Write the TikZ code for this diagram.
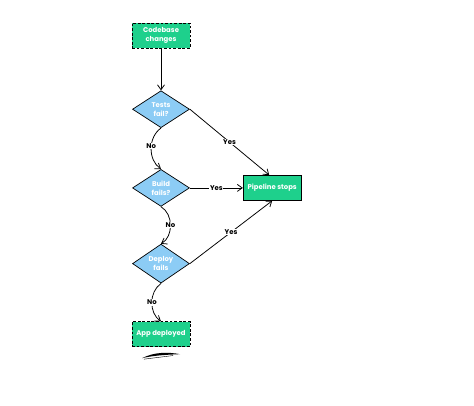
\documentclass[tikz,border=0pt]{standalone}
\usepackage{fontspec}
\setmainfont{Poppins}
\usetikzlibrary{positioning, calc, arrows.meta, shapes.geometric}
\definecolor{stepgreen}{RGB}{30,208,140}
\definecolor{askblue}{RGB}{140,204,245}
\tikzset{>={Straight Barb[length=7pt,width=10pt]}}
\tikzset{terminal/.style={draw, dashed, line width=1pt, dash pattern=on 4pt off 2.5pt, fill=stepgreen, text=white, align=center, minimum width=2.9cm, minimum height=1.25cm, inner sep=1pt}}
\tikzset{question/.style={draw, diamond, line width=1pt, fill=askblue, text=white, align=center, minimum width=2.85cm, minimum height=1.85cm, inner sep=0pt}}

\begin{document}
\begin{tikzpicture}
    [font=\fontsize{9.8}{13}\selectfont\bfseries, line width=1.1pt,
      stop/.style={draw, line width=1pt, fill=stepgreen, text=white, align=center, minimum width=2.9cm, minimum height=1.25cm},
      lbl/.style={fill=white, inner sep=1pt, text=black}]

    \useasboundingbox (0,0) rectangle (23.7,-20.25);

    \node[terminal] (C) at (8.05,-1.775) {Codebase \\ changes};

    \node[below=2.1cm of C, question] (T) {Tests \\ fail?};
    \node[below=2.05cm of T, question] (B) {Build \\ fails?};
    \node[below=1.85cm of B, question] (D) {Deploy \\ fails};
    \node[below=1.9cm of D, terminal] (A) {App deployed};

    \node[right=2.65cm of B, stop] (P) {Pipeline stops};

    \draw[->] (C) -- (T);

    \draw[->] (T.south) to[bend right=55] node[lbl, pos=0.45] {No} (B.north);
    \draw[->] (B.south) to[bend left=60] node[lbl] {No} (D.north);
    \draw[->] (D.south) to[bend right=55] node[lbl] {No} (A.north);

    \draw[->] (T.east) -- node[lbl] {Yes} ($(P.north)+(-0.15,0)$);
    \draw[->] (B) -- node[lbl] {Yes} (P);
    \draw[->] (D.east) -- node[lbl] {Yes} ($(P.south)+(0,0)$);

    % underline below the last step
    \fill ($(A.south)+(-0.95,-0.55)$) .. controls ($(A.south)+(-0.3,-0.22)$) and ($(A.south)+(0.4,-0.25)$) .. ($(A.south)+(0.95,-0.35)$)
      .. controls ($(A.south)+(0.2,-0.38)$) and ($(A.south)+(-0.4,-0.42)$) .. cycle;
    \draw[line width=0.6pt, line cap=round] ($(A.south)+(-0.85,-0.6)$) -- ($(A.south)+(0.6,-0.42)$);
  \end{tikzpicture}
\end{document}
